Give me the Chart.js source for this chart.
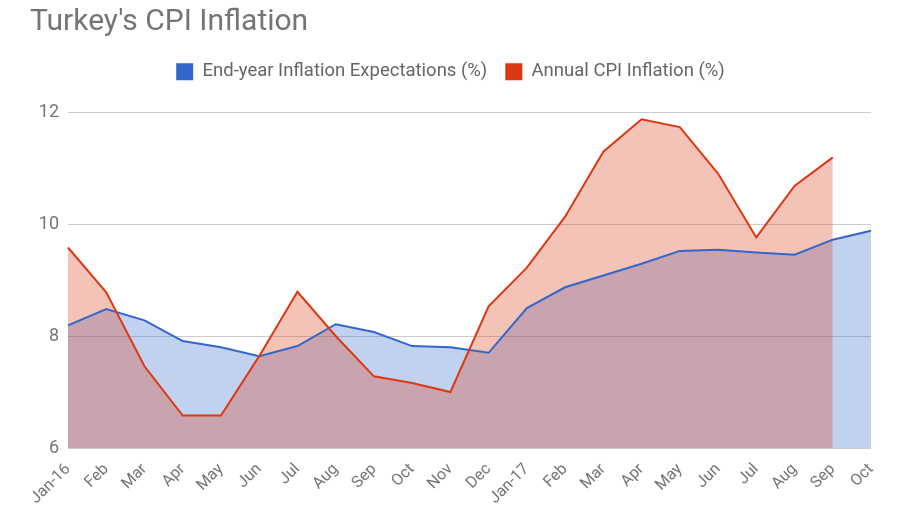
<!DOCTYPE html>
<html>
<head>
<meta charset="utf-8">
<script src="https://cdn.jsdelivr.net/npm/chart.js@4"></script>
<style>
  html, body { margin: 0; padding: 0; background: #fff; }
  #wrap { width: 899px; height: 510px; }
</style>
</head>
<body>
<div id="wrap"><canvas id="cpiChart"></canvas></div>
<script>
const months = ['Jan-16', 'Feb', 'Mar', 'Apr', 'May', 'Jun', 'Jul', 'Aug', 'Sep', 'Oct', 'Nov', 'Dec',
  'Jan-17', 'Feb', 'Mar', 'Apr', 'May', 'Jun', 'Jul', 'Aug', 'Sep', 'Oct'];
const expectations = [8.19, 8.48, 8.28, 7.91, 7.8, 7.64, 7.82, 8.21, 8.07, 7.82, 7.8, 7.7,
  8.5, 8.87, 9.08, 9.29, 9.52, 9.54, 9.49, 9.45, 9.72, 9.88];
const annualCpi = [9.58, 8.78, 7.46, 6.58, 6.58, 7.64, 8.79, 8.0, 7.28, 7.16, 7.0, 8.53,
  9.22, 10.13, 11.29, 11.87, 11.73, 10.9, 9.76, 10.68, 11.19];
const yTicks = [6, 8, 10, 12];

// extra room under the legend
const legendGap = {
  id: 'legendGap',
  beforeInit(chart) {
    const fit = chart.legend.fit;
    chart.legend.fit = function () {
      fit.bind(chart.legend)();
      this.height += 21;
    };
  }
};

const ctx = document.getElementById('cpiChart').getContext('2d');
new Chart(ctx, {
  type: 'line',
  data: {
    labels: months,
    datasets: [
      {
        label: 'End-year Inflation Expectations (%)',
        data: expectations,
        borderColor: '#3366cc',
        backgroundColor: 'rgba(51, 102, 204, 0.3)',
        borderWidth: 2,
        pointRadius: 0,
        fill: 'start',
        order: 1
      },
      {
        label: 'Annual CPI Inflation (%)',
        data: annualCpi,
        borderColor: '#dc3912',
        backgroundColor: 'rgba(220, 57, 18, 0.3)',
        borderWidth: 2,
        pointRadius: 0,
        fill: 'start',
        order: 0
      }
    ]
  },
  plugins: [legendGap],
  options: {
    responsive: true,
    maintainAspectRatio: false,
    animation: false,
    layout: { padding: { left: 30, right: 28, top: 0, bottom: 0 } },
    plugins: {
      filler: { drawTime: 'beforeDatasetsDraw' },
      title: {
        display: true,
        text: "Turkey's CPI Inflation",
        align: 'start',
        color: '#757575',
        font: { family: 'Roboto', size: 30, weight: 'normal' },
        padding: { top: 4.5, bottom: 4 }
      },
      legend: {
        labels: {
          boxWidth: 17,
          boxHeight: 17,
          color: '#666',
          font: { family: 'Roboto', size: 18.5 },
          padding: 18,
          sort: (a, b) => a.datasetIndex - b.datasetIndex,
          generateLabels(chart) {
            const items = Chart.defaults.plugins.legend.labels.generateLabels(chart);
            items.forEach(it => { it.fillStyle = it.strokeStyle; it.lineWidth = 0; });
            return items;
          }
        }
      },
      tooltip: { enabled: false }
    },
    scales: {
      x: {
        offset: false,
        grid: { display: false },
        border: { display: false },
        ticks: {
          color: '#757575',
          font: { family: 'Roboto', size: 16 },
          minRotation: 45,
          maxRotation: 45,
          autoSkip: false,
          padding: 4
        },
        afterFit(scale) { scale.height = 62; }
      },
      y: {
        min: 6,
        max: 12,
        afterBuildTicks(scale) { scale.ticks = yTicks.map(v => ({ value: v })); },
        grid: { color: '#cccccc', drawTicks: false },
        border: { display: false },
        ticks: {
          color: '#757575',
          font: { family: 'Roboto', size: 18 },
          padding: 9
        },
        afterFit(scale) { scale.width = 38; }
      }
    }
  }
});
</script>
</body>
</html>
